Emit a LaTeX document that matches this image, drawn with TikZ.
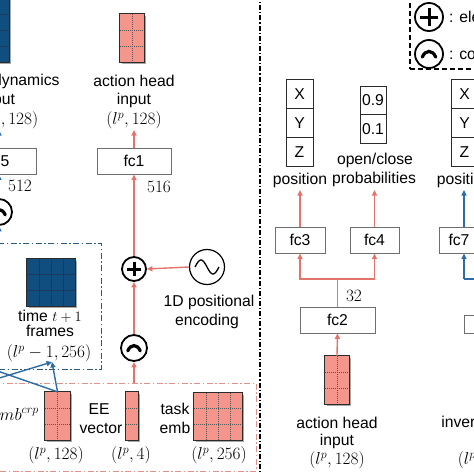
\documentclass[tikz,border=0pt]{standalone}
\usepackage{fontspec}
\setmainfont{Liberation Sans}
\usetikzlibrary{arrows.meta,calc}
\definecolor{pinkfill}{HTML}{F4968C}
\definecolor{bluefill}{HTML}{114E80}
\definecolor{bluegrid}{HTML}{1C3A5C}
\definecolor{redline}{HTML}{E4746B}
\definecolor{blueline}{HTML}{2D6DA5}
\definecolor{redboxcol}{HTML}{E5918B}
\definecolor{blueboxcol}{HTML}{2E5A80}
\definecolor{fcgray}{HTML}{6E6E6E}
\definecolor{blockedge}{HTML}{2B2B2B}
\definecolor{shadowgray}{HTML}{A8A8A8}
\newcommand\lbfont{\fontsize{15.7}{19}\selectfont}
\newcommand\plusnode[4]{%
  \node[circle, draw, line width=1.8pt, minimum size=#4*2, inner sep=0pt] (#1) at (#2,#3) {};
  \draw[line width=3pt] ($(#1.center)+(-0.62*#4,0)$) -- ($(#1.center)+(0.62*#4,0)$);
  \draw[line width=3pt] ($(#1.center)+(0,-0.62*#4)$) -- ($(#1.center)+(0,0.62*#4)$);}
\newcommand\catnode[4]{%
  \node[circle, draw, line width=1.8pt, minimum size=#4*2, inner sep=0pt] (#1) at (#2,#3) {};
  \draw[line width=3.2pt, line cap=round] ($(#1.center)+(-0.48*#4,0.22*#4)$) .. controls ($(#1.center)+(-0.25*#4,-0.32*#4)$) and ($(#1.center)+(0.25*#4,-0.32*#4)$) .. ($(#1.center)+(0.48*#4,0.22*#4)$);}
\newcommand\gblock[9]{%
  \fill[shadowgray] ({(#2)+2},{(#3)+2}) rectangle ({(#4)+2},{(#5)+2});
  \node[inner sep=0pt, minimum width=(#4)-(#2), minimum height=(#5)-(#3), fill=#8] (#1) at ({((#2)+(#4))/2},{((#3)+(#5))/2}) {};
  \foreach \i in {1,...,#6} \draw[#9] ({(#2)+\i*((#4)-(#2))/#6},#3) -- ({(#2)+\i*((#4)-(#2))/#6},#5);
  \foreach \j in {1,...,#7} \draw[#9] (#2,{(#3)+\j*((#5)-(#3))/#7}) -- (#4,{(#3)+\j*((#5)-(#3))/#7});
  \draw[line width=1pt, draw=blockedge] (#1.north west) rectangle (#1.south east);}
\begin{document}
\begin{tikzpicture}[x=1pt,y=-1pt,
  fcbox/.style={draw=fcgray, line width=0.9pt, fill=white, minimum height=26pt, inner sep=0pt, font=\lbfont},
  cell/.style={draw=blockedge, line width=1pt, fill=white, inner sep=0pt, font=\lbfont},
  lbl/.style={inner sep=0pt, font=\lbfont},
  mlbl/.style={inner sep=0pt, font=\fontsize{17.2}{19}\selectfont},
  numlbl/.style={inner sep=0pt, font=\fontsize{16.5}{18}\selectfont},
  arrtip/.style={-{Triangle[length=5.5pt,width=5pt]}},
  redarr/.style={draw=redline, line width=1.4pt, arrtip},
  bluearr/.style={draw=blueline, line width=1.4pt, arrtip},
  redln/.style={draw=redline, line width=1.4pt},
  blueln/.style={draw=blueline, line width=1.4pt},
  pinkdot/.style={draw=blockedge!80, line width=0.6pt, dash pattern=on 1pt off 1pt},
  bluedot/.style={draw=bluegrid, line width=0.7pt},
  redbox/.style={draw=redboxcol, line width=1pt, dash pattern=on 6pt off 2.5pt on 1.5pt off 2.5pt, inner sep=0pt},
  bluebox/.style={draw=blueboxcol, line width=1pt, dash pattern=on 6pt off 2.5pt on 1.5pt off 2.5pt, inner sep=0pt},
  sepline/.style={draw=black, line width=1.2pt, dash pattern=on 5pt off 2pt on 1.2pt off 2pt},
  legbox/.style={draw=black, line width=1.3pt, dash pattern=on 5pt off 3pt, inner sep=0pt}]
\useasboundingbox (0,0) rectangle (474,474);
\clip (0,0) rectangle (474,474);
\fill[white] (0,0) rectangle (474,474);

% frames around groups
\node[redbox, minimum width=456, minimum height=88] (redbx) at (28,427) {};
\node[bluebox, minimum width=402, minimum height=126] (bluebx) at (-100,306) {};
\coordinate (sepT) at (260,-5);
\coordinate (sepB) at (260,480);
\draw[sepline] (sepT) -- (sepB);
\node[legbox, minimum width=90, minimum height=79] (legend) at (455,29.5) {};

% legend
\plusnode{legplus}{429}{17}{14}
\catnode{legcat}{429}{54}{14}
\node[lbl, anchor=west] (legt1) at (449,17) {: element-wise addition};
\node[lbl, anchor=west] (legt2) at (449,54) {: concatenation};

% ---------- left column (forward dynamics) ----------
\gblock{dynblk}{-14}{-2}{9}{62}{2}{4}{bluefill}{bluedot}
\node[lbl] (fd1) at (-2,81) {forward dynamics};
\node[lbl] (fd2) at (-2,100) {input};
\node[mlbl] (fd3) at (-4,120) {$(l^p-1,128)$};
\node[fcbox, minimum width=74] (fc5) at (-1,161) {fc5};
\node[numlbl] (n512) at (20,186) {$512$};
\catnode{catL}{-1}{212}{13}
\coordinate (ltop) at (-1,130);
\draw[bluearr] (catL |- bluebx.north) -- (catL.south);
\draw[bluearr] (catL.north) -- (fc5.south);
\draw[bluearr] (fc5.north) -- (ltop);

% time t+1 frames
\gblock{frblk}{27}{259}{75}{306}{4}{3}{bluefill}{bluedot}
\node[lbl] (tf1) at (50,316) {time $t+1$};
\node[lbl] (tf2) at (50,331) {frames};
\node[mlbl] (tf3) at (49,353) {$(l^p-1,256)$};

% ---------- center column (action head input) ----------
\gblock{ahblk}{120}{14}{144}{62}{2}{3}{pinkfill}{pinkdot}
\node[lbl] (ah1) at (134,81) {action head};
\node[lbl] (ah2) at (134,100) {input};
\node[mlbl] (ah3) at (134,120) {$(l^p,128)$};
\node[fcbox, minimum width=74] (fc1) at (134,161) {fc1};
\node[numlbl] (n516) at (159,187) {$516$};
\plusnode{plusC}{134}{269}{12}
\catnode{catC}{134}{348}{13}
\node[circle, draw, line width=1.2pt, minimum size=35, inner sep=0pt] (sine) at (207,267) {};
\draw[line width=1.3pt] plot[domain=-12:12, samples=40] ({207+\x},{267+7*sin(\x*15)});
\node[lbl] (pe1) at (209,302) {1D positional};
\node[lbl] (pe2) at (207,321) {encoding};
\coordinate (ctop) at (134,130);
\draw[redarr] (catC |- redbx.north) -- (catC.south);
\draw[redarr] (catC.north) -- (plusC.south);
\draw[redarr] (plusC.north) -- (fc1.south);
\draw[redarr] (sine.west) -- (plusC.east);
\draw[redarr] (fc1.north) -- (ctop);

% inputs in red box
\gblock{emb}{45}{392}{70}{440}{2}{3}{pinkfill}{pinkdot}
\gblock{eev}{126}{392}{138}{440}{1}{3}{pinkfill}{pinkdot}
\gblock{task}{194}{393}{242}{440}{4}{3}{pinkfill}{pinkdot}
\node[mlbl, anchor=east] (embl) at (39,414) {$emb^{crp}$};
\node[lbl] (ee1) at (99,409) {EE};
\node[lbl] (ee2) at (101,428) {vector};
\node[lbl] (tk1) at (175,409) {task};
\node[lbl] (tk2) at (175,428) {emb};
\node[mlbl] (d1) at (56,455) {$(l^p,128)$};
\node[mlbl] (d2) at (131,455) {$(l^p,4)$};
\node[mlbl] (d3) at (219,455) {$(l^p,256)$};

% arrows to time t+1 frames
\coordinate (tgt) at (52,362);
\coordinate (srcA) at (-40,390);
\coordinate (srcB) at (-40,358);
\draw[bluearr] (srcA) -- (tgt);
\draw[blueln] (srcB) -- (emb.north);
\draw[bluearr] (emb.north) -- (tgt);

% ---------- right part (action head) ----------
\node[cell, minimum width=27, minimum height=28.7] (px) at (299.5,94.3) {X};
\node[cell, minimum width=27, minimum height=28.7] (py) at (299.5,123) {Y};
\node[cell, minimum width=27, minimum height=28.7] (pz) at (299.5,151.7) {Z};
\node[lbl] (pos1) at (300,180) {position};
\node[cell, minimum width=26, minimum height=28.5] (p09) at (373,100.3) {0.9};
\node[cell, minimum width=26, minimum height=28.5] (p01) at (373,128.8) {0.1};
\node[lbl] (oc1) at (375,160) {open/close};
\node[lbl] (oc2) at (374,179) {probabilities};
\node[fcbox, minimum width=50] (fc3) at (300,240) {fc3};
\node[fcbox, minimum width=49] (fc4) at (374.5,240) {fc4};
\node[fcbox, minimum width=75] (fc2) at (337.5,320) {fc2};
\node[numlbl] (n32) at (354,296) {$32$};
\gblock{rblk}{325}{356}{349}{404}{2}{3}{pinkfill}{pinkdot}
\node[lbl] (ra1) at (337,423) {action head};
\node[lbl] (ra2) at (337,441) {input};
\node[mlbl] (ra3) at (337,460) {$(l^p,128)$};
\coordinate (p1top) at (300,190);
\coordinate (p2top) at (374.5,190);
\coordinate (fk) at (337.5,279);
\draw[redarr] (fc3.north) -- (p1top);
\draw[redarr] (fc4.north) -- (p2top);
\draw[redln] (fc2.north) -- (fk);
\draw[redarr] (fk) -| (fc3.south);
\draw[redarr] (fk) -| (fc4.south);
\draw[redarr] (rblk.north) -- (fc2.south);

% ---------- far right (inverse dynamics) ----------
\node[cell, minimum width=27, minimum height=28.7] (qx) at (464.5,94.3) {X};
\node[cell, minimum width=27, minimum height=28.7] (qy) at (464.5,123) {Y};
\node[cell, minimum width=27, minimum height=28.7] (qz) at (464.5,151.7) {Z};
\node[lbl] (pos2) at (464,180) {position};
\node[fcbox, minimum width=40] (fc7) at (459,240) {fc7};
\node[fcbox, minimum width=60, minimum height=18] (fc6) at (494,324) {};
\node[lbl] (id1) at (502,423) {inverse dynamics};
\node[lbl] (id2) at (502,441) {input};
\node[mlbl] (id3) at (500,460) {$(l^p-1,128)$};
\coordinate (q1top) at (464,190);
\coordinate (fkB) at (464,279);
\coordinate (fkBR) at (495,279);
\draw[bluearr] (fkB |- fc7.north) -- (q1top);
\draw[blueln] (fkBR) -- (fkB);
\draw[bluearr] (fkB) -- (fkB |- fc7.south);
\end{tikzpicture}
\end{document}
